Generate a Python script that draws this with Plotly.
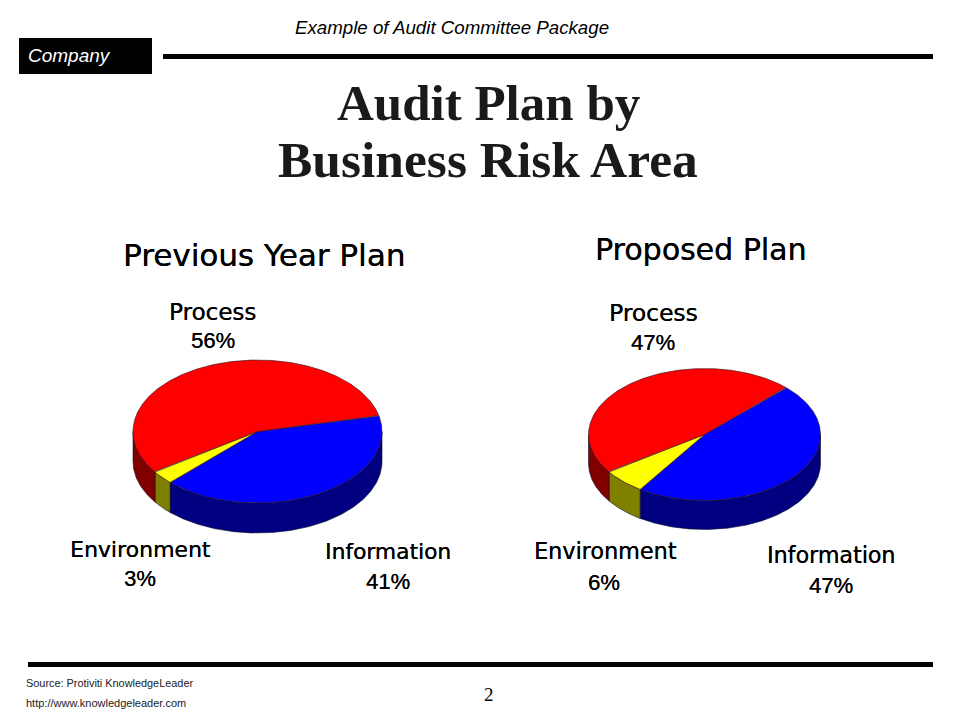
import numpy as np
import plotly.graph_objects as go

categories = ["Information", "Environment", "Process"]
previous_values = [41, 3, 56]
proposed_values = [47, 6, 47]
chart_titles = ["Previous Year Plan", "Proposed Plan"]
slice_top = ["#0000ff", "#ffff00", "#ff0000"]
slice_side = ["#000080", "#808000", "#800000"]

fig = go.Figure()


def arc(cx, cy, a, b, t0, t1, dy=0.0):
    t = np.radians(np.linspace(t0, t1, max(2, int(abs(t1 - t0) * 2) + 1)))
    return cx + a * np.cos(t), cy - b * np.sin(t) + dy


def draw_pie(values, names, cx, cy, a, b, depth, start):
    total = float(sum(values))
    edges = [start]
    for v in values:
        edges.append(edges[-1] - 360.0 * v / total)
    # side walls: only the front half of the rim is visible
    for i, name in enumerate(names):
        t0 = min(edges[i], 0.0)
        t1 = max(edges[i + 1], -180.0)
        if t0 <= t1:
            continue
        x0, y0 = arc(cx, cy, a, b, t0, t1)
        x1, y1 = arc(cx, cy, a, b, t1, t0, depth)
        fig.add_trace(go.Scatter(
            x=np.r_[x0, x1, x0[0]], y=np.r_[y0, y1, y0[0]], mode="lines",
            fill="toself", fillcolor=slice_side[i], hoverinfo="skip",
            line=dict(color="#10102a", width=0.6), showlegend=False))
    # top faces
    for i, name in enumerate(names):
        x0, y0 = arc(cx, cy, a, b, edges[i], edges[i + 1])
        fig.add_trace(go.Scatter(
            x=np.r_[cx, x0, cx], y=np.r_[cy, y0, cy], mode="lines",
            fill="toself", fillcolor=slice_top[i], name=name,
            text=f"{name} {values[i]}%", hoverinfo="text",
            line=dict(color="#30101a", width=0.6), showlegend=False))


draw_pie(previous_values, categories, 257.5, 431.5, 124.5, 71.5, 30, 13)
draw_pie(proposed_values, categories, 704.5, 434.5, 116, 66, 29, 45.5)

SANS = "Liberation Sans"
WIDE = "DejaVu Sans"
THICK = "0.25px 0 0 #000000"
ann = []


def label(x, y, text, size, family=SANS, color="#000000", xanchor="center", shadow=None):
    font = dict(family=family, size=size, color=color)
    if shadow:
        font["shadow"] = shadow
    ann.append(dict(x=x, y=y, xref="x", yref="y", text=text, showarrow=False,
                    font=font, xanchor=xanchor, yanchor="middle"))


label(452, 27, "<i>Example of Audit Committee Package</i>", 18.7)
label(69.5, 55, "<i>Company</i>", 19, color="#ffffff")
label(488.5, 102.5, "<b>Audit Plan by</b>", 51, family="Liberation Serif", color="#1a1a1a")
label(488, 159.5, "<b>Business Risk Area</b>", 51.5, family="Liberation Serif", color="#1a1a1a")
label(263.5, 255, chart_titles[0], 31, family=WIDE, shadow=THICK)
label(700, 249, chart_titles[1], 30, family=WIDE, shadow=THICK)

label(212.5, 312, categories[2], 23, family=WIDE, shadow=THICK)
label(212.5, 340, f"{previous_values[2]}%", 22, shadow=THICK)
label(140.5, 549, categories[1], 22, family=WIDE, shadow=THICK)
label(140, 578, f"{previous_values[1]}%", 22, shadow=THICK)
label(388, 551, categories[0], 21.8, family=WIDE, shadow=THICK)
label(388, 581, f"{previous_values[0]}%", 22, shadow=THICK)
label(653.5, 313, categories[2], 23.4, family=WIDE, shadow=THICK)
label(653, 342, f"{proposed_values[2]}%", 22, shadow=THICK)
label(605, 551, categories[1], 22.3, family=WIDE, shadow=THICK)
label(604, 582, f"{proposed_values[1]}%", 22, shadow=THICK)
label(831, 555, categories[0], 22.2, family=WIDE, shadow=THICK)
label(831, 585, f"{proposed_values[0]}%", 22, shadow=THICK)

label(24, 683, "Source: Protiviti KnowledgeLeader", 10.9, xanchor="left", color="#222222")
label(24, 703, "http://www.knowledgeleader.com", 11, xanchor="left", color="#222222")
label(489, 694, "2", 19, family="Liberation Serif")

shapes = [
    dict(type="rect", x0=19, x1=152, y0=38, y1=74, fillcolor="#000000", line_width=0, layer="below"),
    dict(type="rect", x0=163, x1=933, y0=54, y1=59, fillcolor="#000000", line_width=0, layer="below"),
    dict(type="rect", x0=28, x1=933, y0=662, y1=667, fillcolor="#000000", line_width=0, layer="below"),
]

# the page body has an 8 px margin, so the plot area covers screen pixels 8..960 / 8..720
fig.update_layout(
    width=952, height=712, margin=dict(l=0, r=0, t=0, b=0, pad=0),
    paper_bgcolor="#ffffff", plot_bgcolor="#ffffff", showlegend=False,
    xaxis=dict(range=[8, 960], visible=False, fixedrange=True),
    yaxis=dict(range=[720, 8], visible=False, fixedrange=True),
    annotations=ann, shapes=shapes,
)
fig.write_html("out.html", config=dict(displayModeBar=False))
